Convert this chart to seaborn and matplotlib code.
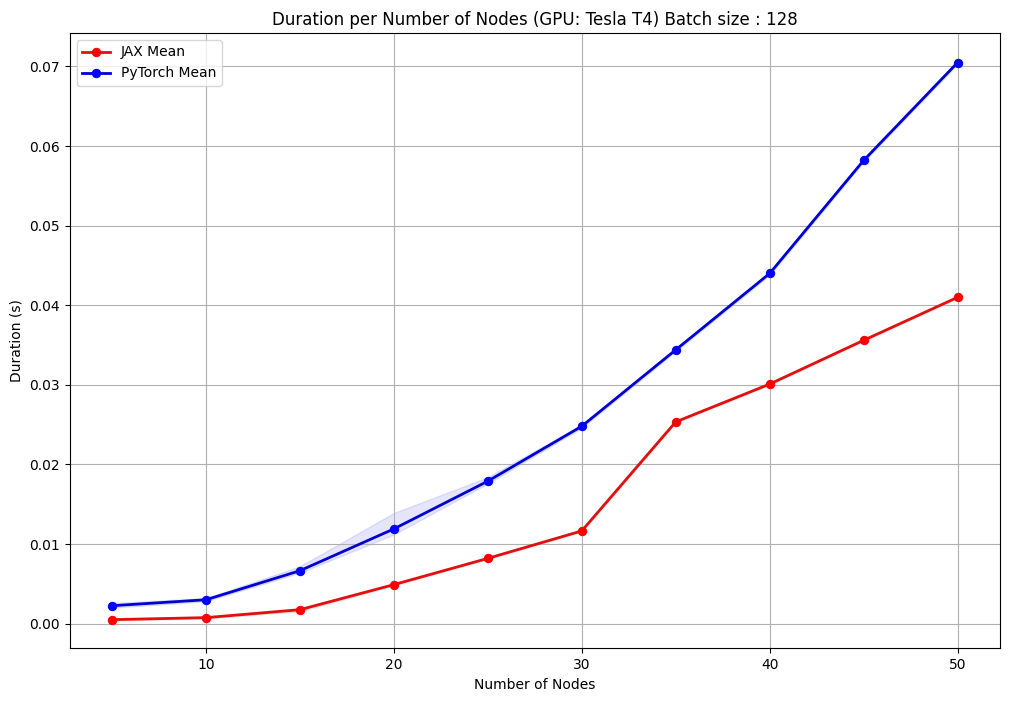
import matplotlib
matplotlib.use('Agg')
import matplotlib.pyplot as plt
import seaborn as sns
import pandas as pd

# Values
nodes = [5, 10, 15, 20, 25, 30, 35, 40, 45, 50]
jax_mean = [0.0005, 0.00075, 0.00175, 0.0049, 0.0082, 0.01165, 0.02535, 0.0301, 0.0356, 0.0410]
jax_low = [0.0004, 0.00065, 0.00155, 0.0048, 0.0081, 0.01155, 0.02525, 0.0300, 0.0355, 0.0409]
jax_high = [0.0006, 0.00095, 0.00195, 0.0050, 0.0083, 0.01175, 0.02545, 0.0302, 0.0357, 0.0411]
torch_mean = [0.00225, 0.0030, 0.00665, 0.0119, 0.0179, 0.0248, 0.0344, 0.0440, 0.0582, 0.0705]
torch_low = [0.0020, 0.0028, 0.0064, 0.0112, 0.0176, 0.0246, 0.0342, 0.0438, 0.0580, 0.0703]
torch_high = [0.0026, 0.0032, 0.0072, 0.0139, 0.0184, 0.0250, 0.0346, 0.0442, 0.0584, 0.0707]

df = pd.DataFrame({'nodes': nodes, 'jax': jax_mean, 'torch': torch_mean})

fig, ax = plt.subplots(figsize=(10.1, 7.01), dpi=100)

sns.lineplot(x='nodes', y='jax', data=df, marker='o', color='#e01010', linewidth=2,
             markersize=6, markerfacecolor='red', markeredgecolor='red',
             label='JAX Mean', ax=ax)
ax.fill_between(nodes, jax_low, jax_high, color='red', alpha=0.1)

sns.lineplot(x='nodes', y='torch', data=df, marker='o', color='#0000d0', linewidth=2,
             markersize=6, markerfacecolor='blue', markeredgecolor='blue',
             label='PyTorch Mean', ax=ax)
ax.fill_between(nodes, torch_low, torch_high, color='blue', alpha=0.1)

ax.set_title('Duration per Number of Nodes (GPU: Tesla T4) Batch size : 128')
ax.set_xlabel('Number of Nodes')
ax.set_ylabel('Duration (s)')
ax.grid(True)
ax.legend(loc='upper left')

plt.subplots_adjust(left=0.069, right=0.99, top=0.953, bottom=0.075)
plt.savefig('out.png')
